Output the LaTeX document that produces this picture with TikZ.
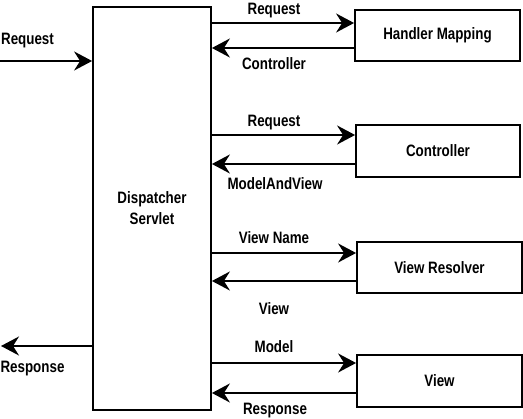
\documentclass[tikz,border=0pt]{standalone}
\usepackage{fontspec}
\setmainfont{Liberation Sans}[BoldFont={Liberation Sans Bold}]
\newfontfamily\lblfont{Liberation Sans Bold}[FakeStretch=0.81]
\usetikzlibrary{arrows.meta}
\begin{document}
\begin{tikzpicture}[x=1pt,y=-1pt,
  box/.style={draw,line width=1.8pt,inner sep=0pt,font=\lblfont\fontsize{16.5}{19}\selectfont},
  lbl/.style={inner sep=0pt,anchor=base,font=\lblfont\fontsize{16.5}{19}\selectfont},
  arr/.style={line width=1.8pt,-{Stealth[length=18pt,width=19pt,inset=6pt]}}]
\useasboundingbox (0,0) rectangle (523,419);
\node[box,minimum width=118pt,minimum height=403pt,align=center] (disp) at (152,208.5) {Dispatcher\\[2pt]Servlet};
\node[box,minimum width=165pt,minimum height=51pt] (hm) at (437.5,35.5) {Handler Mapping};
\node[box,minimum width=164pt,minimum height=52pt] (ctrl) at (438,151) {Controller};
\node[box,minimum width=165pt,minimum height=51pt] (vr) at (439.5,267.5) {View Resolver};
\node[box,minimum width=165pt,minimum height=52pt] (view) at (439.5,381) {View};
\coordinate (inL) at (0,61);
\coordinate (outL) at (1,346);
\draw[arr] (inL) -- (disp.west |- inL);
\draw[arr] (disp.west |- outL) -- (outL);
\draw[arr] (disp.east |- {(0,23)}) -- (hm.west |- {(0,23)});
\draw[arr] (hm.west |- {(0,48)}) -- (disp.east |- {(0,48)});
\draw[arr] (disp.east |- {(0,135)}) -- (ctrl.west |- {(0,135)});
\draw[arr] (ctrl.west |- {(0,164)}) -- (disp.east |- {(0,164)});
\draw[arr] (disp.east |- {(0,253)}) -- (vr.west |- {(0,253)});
\draw[arr] (vr.west |- {(0,281)}) -- (disp.east |- {(0,281)});
\draw[arr] (disp.east |- {(0,363)}) -- (view.west |- {(0,363)});
\draw[arr] (view.west |- {(0,393)}) -- (disp.east |- {(0,393)});
\node[lbl] (l1) at (27.5,45) {Request};
\node[lbl] (l2) at (32.5,373) {Response};
\node[lbl] (l3) at (274,15) {Request};
\node[lbl] (l4) at (274,70) {Controller};
\node[lbl] (l5) at (274,127) {Request};
\node[lbl] (l6) at (275,190) {ModelAndView};
\node[lbl] (l7) at (274,244) {View Name};
\node[lbl] (l8) at (274,315) {View};
\node[lbl] (l9) at (274,353) {Model};
\node[lbl] (l10) at (275,415) {Response};
\end{tikzpicture}
\end{document}
